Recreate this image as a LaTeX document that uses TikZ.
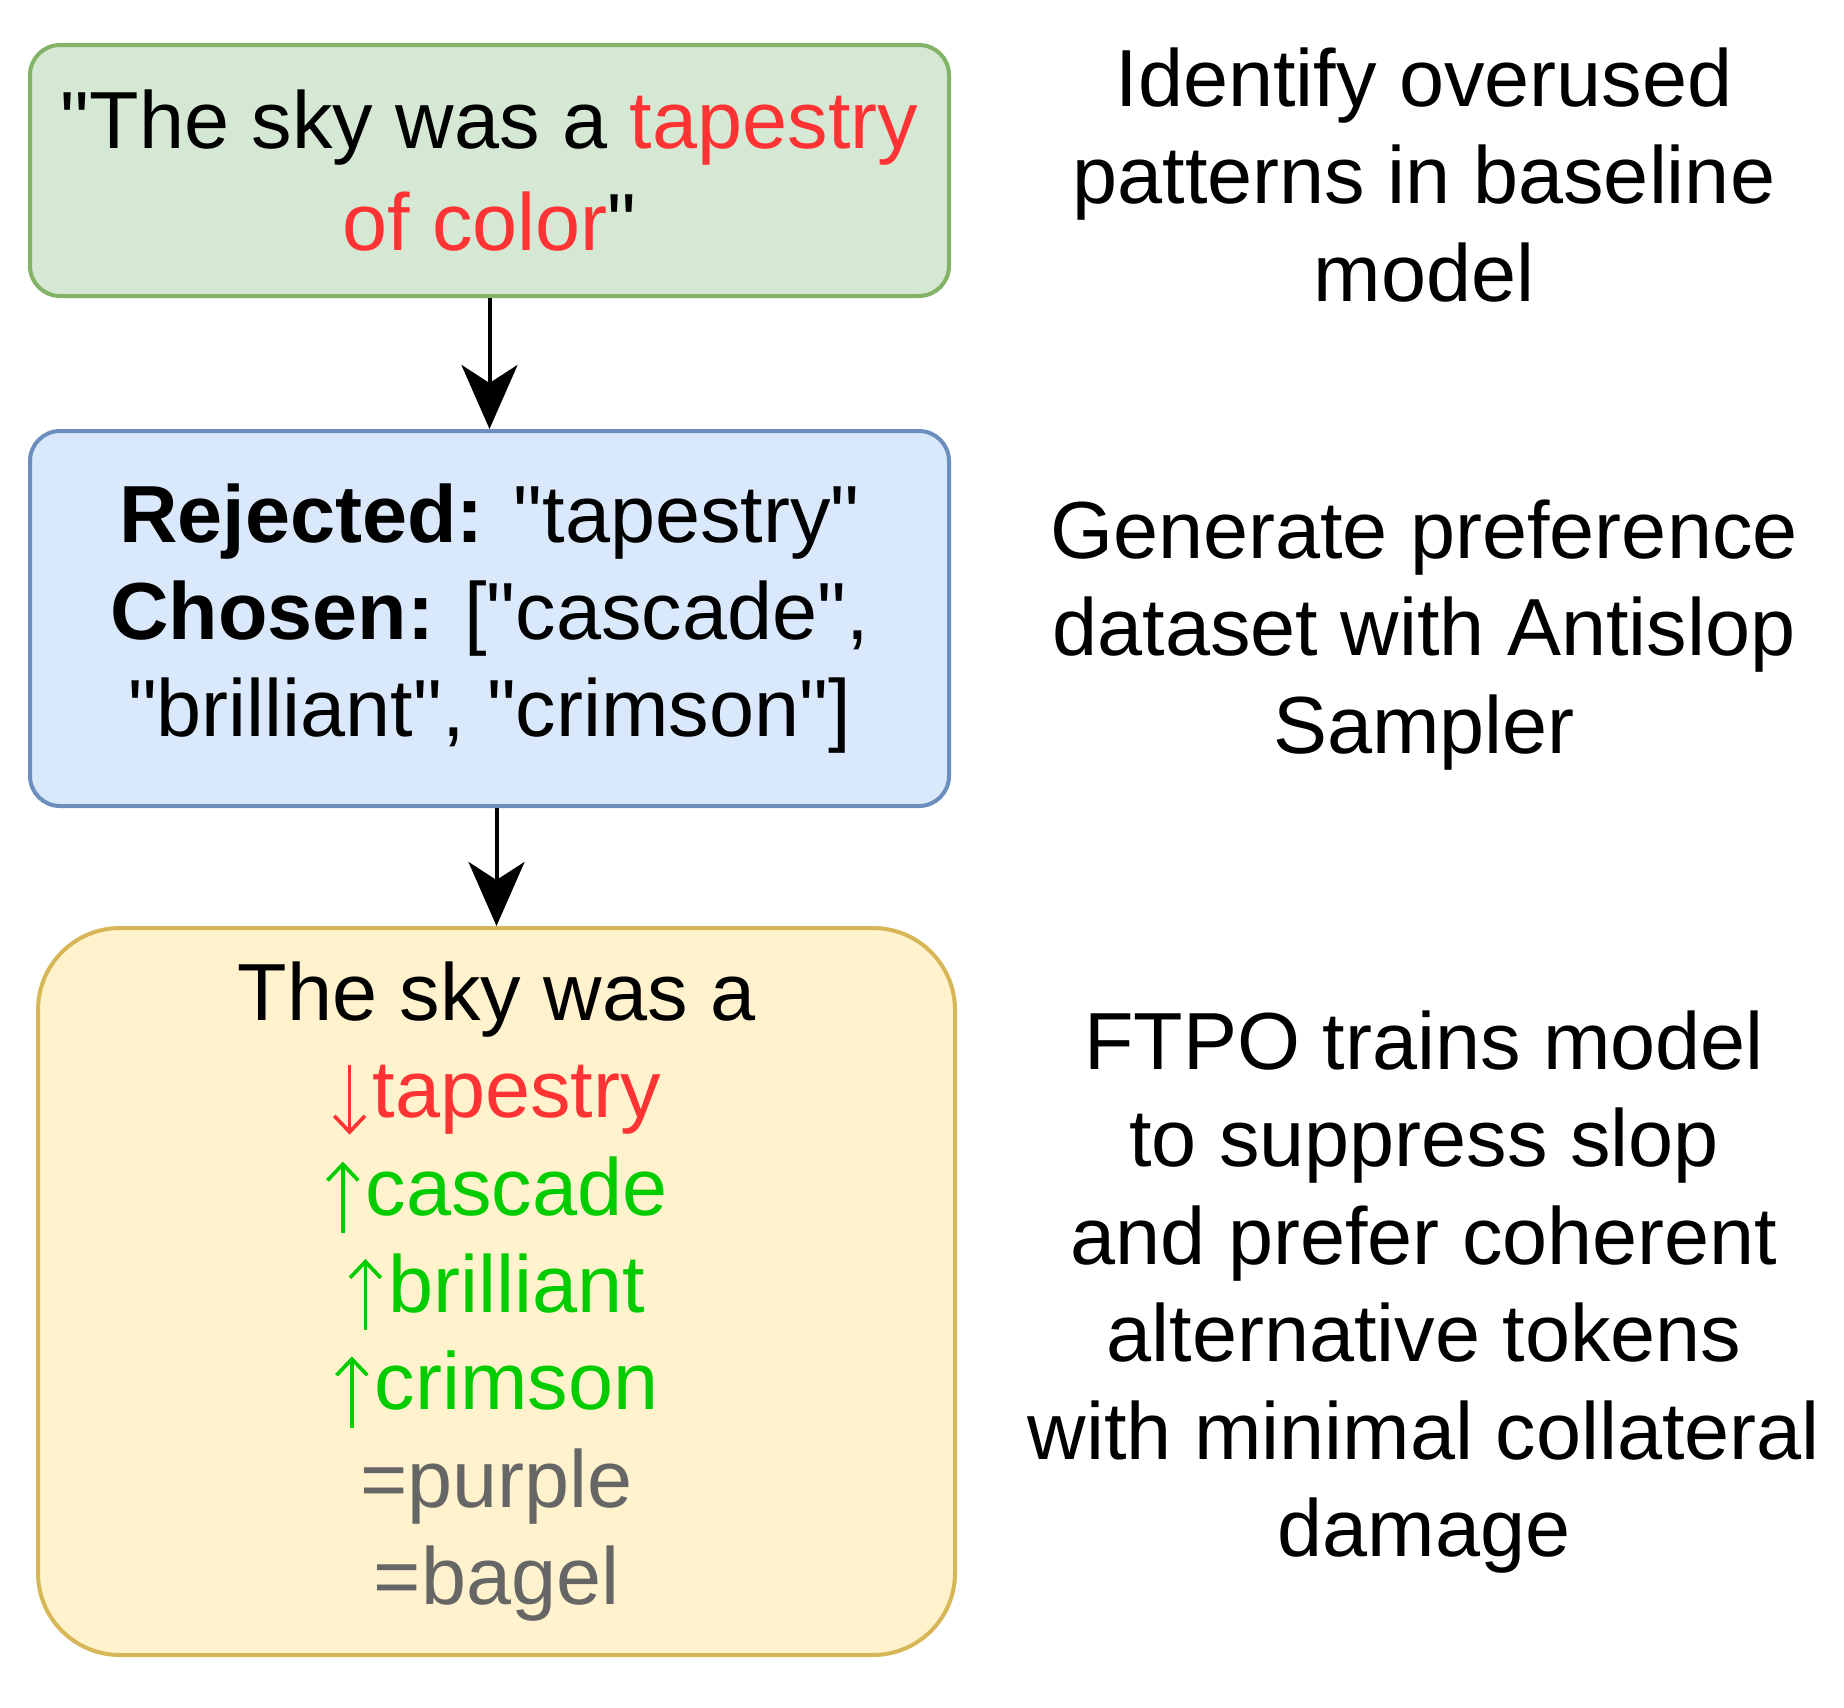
\documentclass[tikz,border=0pt]{standalone}
\usepackage{fontspec}
\setmainfont{Liberation Sans}[Ligatures=TeXOff]
\usepackage{xcolor}
\usetikzlibrary{positioning}
\usetikzlibrary{arrows.meta}
\definecolor{greenfill}{HTML}{D5E8D4}
\definecolor{greenline}{HTML}{82B366}
\definecolor{bluefill}{HTML}{DAE8FC}
\definecolor{blueline}{HTML}{6C8EBF}
\definecolor{yellowfill}{HTML}{FFF2CC}
\definecolor{yellowline}{HTML}{D6B656}
\definecolor{slopred}{HTML}{FF3333}
\definecolor{upgreen}{HTML}{00CC00}
\definecolor{evengrey}{HTML}{666666}
\tikzset{bigfont/.style={font=\fontsize{40.5pt}{48.7pt}\selectfont}}
\tikzset{box/.style={draw, line width=2pt, rounded corners=15pt, align=center, bigfont}}
\tikzset{note/.style={align=center, bigfont}}
\tikzset{flow/.style={-{Stealth[length=32pt,width=28pt,inset=9pt]}, line width=2pt}}
\tikzset{tokarrow/.style={draw=., line width=0.045em, -{Straight Barb[length=0.2em,width=0.38em]}}}
\newcommand{\downtok}{\tikz[baseline=0pt]\draw[tokarrow] (0,0.65em) -- (0,-0.21em);\hspace{0.07em}}
\newcommand{\uptok}{\tikz[baseline=0pt]\draw[tokarrow] (0,-0.22em) -- (0,0.66em);\hspace{0.07em}}

\begin{document}
\begin{tikzpicture}[x=0.5pt,y=-0.5pt]
\useasboundingbox (0,0) rectangle (1844,1708);
\node[box, fill=greenfill, draw=greenline, minimum width=459.5pt, minimum height=125.5pt] (prompt) at (489.5,170.5) {"The sky was a \textcolor{slopred}{tapestry}\\[2pt]\textcolor{slopred}{of color}"};
\node[box, fill=bluefill, draw=blueline, minimum width=459.5pt, minimum height=187.5pt] (pairs) at (489.5,618.5) {\textbf{Rejected:} "tapestry"\\\textbf{Chosen:} ["cascade",\\"brilliant", "crimson"]};
\node[box, rounded corners=41pt, fill=yellowfill, draw=yellowline, minimum width=458.5pt, minimum height=363.5pt] (ftpo) at (496.5,1291.5) {The sky was a\\\textcolor{slopred}{\downtok tapestry}\\\textcolor{upgreen}{\uptok cascade}\\\textcolor{upgreen}{\uptok brilliant}\\\textcolor{upgreen}{\uptok crimson}\\\textcolor{evengrey}{=purple}\\\textcolor{evengrey}{=bagel}};
%\node[note] (n1) at (1424,175) {};
\node[note] (identify) at (1424,175) {Identify overused\\patterns in baseline\\model};
\node[note] (generate) at (1424,635) {Generate preference\\dataset with Antislop\\Sampler};
\node[note] (train) at (1424,1292) {FTPO trains model\\to suppress slop\\and prefer coherent\\alternative tokens\\with minimal collateral\\damage};
\draw[flow] (prompt) -- (pairs);
\draw[flow] (ftpo.north |- pairs.south) -- (ftpo.north);
\end{tikzpicture}
\end{document}
